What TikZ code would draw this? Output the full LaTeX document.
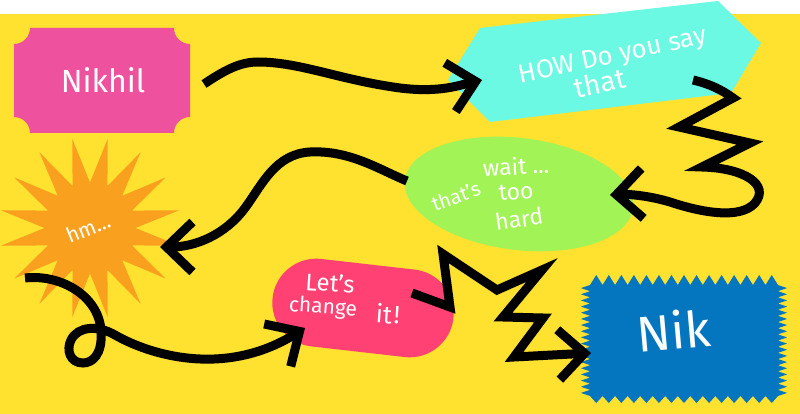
\documentclass[tikz,border=0pt]{standalone}
\usepackage{fontspec}
\setmainfont{Fira Sans}
\usetikzlibrary{arrows.meta,shapes.geometric}
\definecolor{bgyellow}{HTML}{FFE12F}
\definecolor{nikpink}{HTML}{EE519D}
\definecolor{howcyan}{HTML}{6BF9E3}
\definecolor{waitgreen}{HTML}{A2F356}
\definecolor{hmorange}{HTML}{F9A11E}
\definecolor{changepink}{HTML}{FF4173}
\definecolor{nikblue}{HTML}{0476BF}
\begin{document}
\begin{tikzpicture}[x=1pt,y=-1pt,
  conn/.style={line width=9pt, black, line join=miter, -{Straight Barb[length=26pt,width=50pt]}},
  lbl/.style={text=white, inner sep=0pt, font=\fontsize{#1}{#1}\selectfont},
]
\useasboundingbox (0,0) rectangle (800,414);
\fill[white] (0,0) rectangle (800,414);
\fill[bgyellow] (0,14) rectangle (800,414);

% Nikhil ticket
\fill[nikpink] (30,28) -- (174,28) arc[start angle=180,end angle=90,radius=16]
  -- (190,117) arc[start angle=270,end angle=180,radius=16]
  -- (30,133) arc[start angle=0,end angle=-90,radius=16]
  -- (14,44) arc[start angle=90,end angle=0,radius=16] -- cycle;
\node[lbl=32] (nikhil) at (103,80) {Nikhil};

% How do you say that
\fill[howcyan] (480,28) -- (718,1) -- (761,43) -- (731,93) -- (490,122) -- (448,80) -- cycle;
\node[lbl=26, rotate=12] (how) at (613,57) {HOW Do you say};
\node[lbl=28, rotate=12] (howb) at (600,83) {that};

% wait... that's too hard
\fill[waitgreen, rotate around={-7:(519,194)}] (519,194) ellipse[x radius=115, y radius=56];
\node[lbl=23, rotate=3] (wait) at (516,166) {wait ...};
\node[lbl=20, rotate=20] (w2) at (456,196) {that's};
\node[lbl=23, rotate=5] (w3) at (516,192) {too};
\node[lbl=23, rotate=8] (w4) at (519,219) {hard};

% hm...
\node[star, star points=16, star point ratio=2, minimum size=182pt, inner sep=0pt,
  fill=hmorange, shape border rotate=11.25] (hm) at (90,228) {};
\node[lbl=21, rotate=22] (hmt) at (88,228) {hm...};

% Let's change it!
\fill[changepink, rounded corners=44pt, rotate around={-6.5:(363,308)}] (272,264) rectangle (454,352);
\node[lbl=24, rotate=-4] (change) at (330,283) {Let's};
\node[lbl=21, rotate=-4] (c2) at (323,308) {change};
\node[lbl=25, rotate=-4] (c3) at (388,314) {it\kern2pt!};

% Nik
\fill[nikblue] (590,285)
  \foreach \i in {0,...,14} { -- ({596.27+12.533*\i},275) -- ({602.53+12.533*\i},285) }
  \foreach \j in {0,...,17} { -- (787,{288.08+6.1667*\j}) -- (778,{291.17+6.1667*\j}) }
  \foreach \i in {0,...,14} { -- ({771.73-12.533*\i},403) -- ({765.47-12.533*\i},396) }
  \foreach \j in {0,...,17} { -- (581,{392.92-6.1667*\j}) -- (590,{389.83-6.1667*\j}) }
  -- cycle;
\node[lbl=50, rotate=5] (nik) at (674,330) {Nik};

% connector end points
\coordinate (n2h) at (204,84);
\coordinate (h2n) at (482,80);
\coordinate (h2w) at (693,80);
\coordinate (w2h) at (610,195);
\coordinate (w2m) at (407,181);
\coordinate (m2w) at (160,247);
\coordinate (m2c) at (25,278);
\coordinate (c2m) at (305,328);
\coordinate (c2n) at (412,293);
\coordinate (n2c) at (591,353);

\draw[conn] (n2h) .. controls (225,70) and (240,62) .. (258,62)
  .. controls (300,62) and (340,80) .. (400,88)
  .. controls (440,93) and (460,85) .. (h2n);
\draw[conn] (h2w) .. controls (710,84) and (722,90) .. (733,98) -- (679,127) -- (750,143) -- (702,167)
  .. controls (745,168) and (770,185) .. (755,203)
  .. controls (740,220) and (700,212) .. (670,202)
  .. controls (650,196) and (630,194) .. (w2h);
\draw[conn] (w2m) .. controls (380,170) and (350,150) .. (310,152)
  .. controls (275,154) and (262,185) .. (245,208)
  .. controls (225,235) and (195,247) .. (m2w);
\draw[conn] (m2c) .. controls (60,274) and (98,295) .. (101,330)
  .. controls (103,355) and (92,363) .. (83,363)
  .. controls (70,363) and (66,350) .. (71,340)
  .. controls (78,326) and (98,325) .. (115,335)
  .. controls (150,355) and (225,378) .. (c2m);
\draw[conn] (c2n) -- (450,307) -- (443,254) -- (497,290) -- (542,270) -- (503,317) -- (543,318) -- (514,357) -- (n2c);
\end{tikzpicture}
\end{document}
